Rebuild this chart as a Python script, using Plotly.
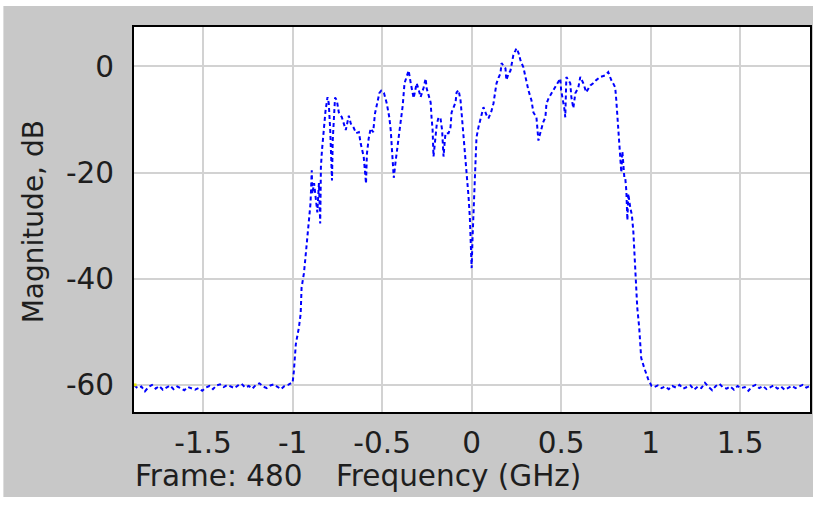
import numpy as np
import plotly.graph_objects as go

# ---- data ----
floor_left_y = [-60.1, -60.6, -60.3, -61.2, -60.4, -60.0, -60.7, -60.2, -60.9, -60.5,
                -60.1, -60.8, -60.3, -60.6, -61.0, -60.4, -60.7, -60.9, -60.6, -61.1,
                -60.5, -60.2, -60.8, -60.1, -59.9, -60.4, -60.0, -60.3, -60.6, -60.1,
                -59.8, -60.5, -60.2, -60.7, -60.0, -59.7, -60.3, -60.6, -60.1, -59.9,
                -60.4, -60.8, -60.2, -60.0, -59.6]
floor_left_x = list(np.round(np.linspace(-1.885, -1.005, len(floor_left_y)), 4))

band_x = [-1.0, -0.993, -0.982, -0.965, -0.955, -0.95, -0.937, -0.93, -0.92, -0.91,
          -0.90, -0.893, -0.89, -0.88, -0.87, -0.862, -0.853, -0.846, -0.844, -0.842,
          -0.836, -0.825, -0.816, -0.805, -0.798, -0.79, -0.785, -0.78, -0.776, -0.77,
          -0.763, -0.753, -0.742, -0.725, -0.703, -0.686, -0.675, -0.66, -0.645, -0.63,
          -0.62, -0.603, -0.595, -0.59, -0.585, -0.575, -0.564, -0.55, -0.54, -0.53,
          -0.515, -0.505, -0.49, -0.474, -0.46, -0.452, -0.446, -0.44, -0.435, -0.425,
          -0.408, -0.396, -0.385, -0.375, -0.365, -0.352, -0.34, -0.324, -0.315, -0.307,
          -0.295, -0.285, -0.268, -0.257, -0.251, -0.24, -0.229, -0.224, -0.218, -0.213,
          -0.205, -0.195, -0.185, -0.174, -0.165, -0.157, -0.15, -0.146, -0.129, -0.118,
          -0.112, -0.10, -0.09, -0.084, -0.073, -0.062, -0.056, -0.045, -0.034, -0.028,
          -0.022, -0.017, -0.01, -0.006, -0.002, 0.0, 0.005, 0.01, 0.016, 0.02,
          0.022, 0.027, 0.038, 0.05, 0.066, 0.083, 0.094, 0.11, 0.122, 0.133,
          0.139, 0.15, 0.161, 0.167, 0.178, 0.189, 0.194, 0.205, 0.217, 0.225,
          0.233, 0.245, 0.25, 0.262, 0.273, 0.289, 0.30, 0.317, 0.334, 0.345,
          0.362, 0.368, 0.373, 0.38, 0.39, 0.40, 0.412, 0.418, 0.43, 0.445,
          0.468, 0.484, 0.495, 0.50, 0.512, 0.518, 0.523, 0.526, 0.529, 0.54,
          0.551, 0.557, 0.568, 0.579, 0.596, 0.607, 0.624, 0.64, 0.652, 0.663,
          0.679, 0.696, 0.719, 0.746, 0.763, 0.78, 0.795, 0.802, 0.808, 0.813,
          0.819, 0.824, 0.83, 0.836, 0.842, 0.847, 0.853, 0.858, 0.864, 0.87,
          0.875, 0.886, 0.895, 0.903, 0.908, 0.914, 0.918, 0.925, 0.936, 0.942,
          0.947, 0.964, 0.986, 1.005]
band_y = [-59.6, -57.4, -52.3, -49.2, -46.6, -41.7, -39.0, -36.6, -32.8, -28.5,
          -25.8, -19.6, -24.0, -22.0, -24.7, -27.5, -22.0, -29.6, -25.0, -19.0,
          -15.8, -11.5, -8.3, -5.8, -7.0, -12.0, -17.5, -21.5, -14.0, -9.5,
          -5.9, -6.4, -8.7, -9.6, -12.0, -9.3, -10.8, -11.5, -12.6, -12.4,
          -14.5, -17.0, -19.6, -22.1, -16.5, -13.6, -11.7, -12.4, -8.9, -7.4,
          -5.0, -4.6, -5.0, -7.0, -9.6, -12.0, -15.3, -17.7, -21.0, -18.0,
          -13.4, -10.2, -7.4, -3.2, -2.0, -0.8, -3.2, -6.0, -4.5, -3.2,
          -4.5, -5.8, -4.0, -2.3, -4.2, -5.5, -6.8, -9.6, -12.0, -17.0,
          -14.0, -11.0, -9.6, -9.8, -12.0, -17.0, -14.0, -12.6, -12.6, -11.5,
          -8.7, -7.5, -6.8, -4.9, -4.5, -6.4, -8.9, -12.0, -16.4, -19.6,
          -22.0, -24.7, -28.5, -32.3, -36.0, -38.0, -32.3, -28.5, -24.0, -21.0,
          -17.0, -13.4, -11.5, -9.6, -7.7, -9.2, -9.8, -8.5, -7.0, -4.5,
          -3.2, -2.2, -1.3, 0.6, 0.2, -0.4, -2.6, -1.5, -0.8, 0.8,
          2.1, 3.0, 3.4, 2.5, 1.1, -0.2, -2.0, -4.5, -6.4, -8.7,
          -9.6, -11.5, -14.0, -13.0, -11.6, -10.5, -9.6, -7.0, -6.0, -5.1,
          -4.0, -3.0, -2.3, -4.5, -6.4, -8.0, -9.6, -5.5, -2.0, -2.6,
          -3.2, -5.8, -7.9, -5.1, -4.0, -2.0, -3.2, -4.9, -4.2, -3.6,
          -3.2, -2.6, -2.0, -1.7, -1.1, -2.6, -3.5, -4.0, -6.4, -8.9,
          -11.5, -14.5, -17.2, -20.0, -16.0, -18.0, -21.0, -21.0, -23.4, -29.0,
          -24.0, -26.6, -28.0, -31.0, -34.0, -37.9, -41.0, -45.4, -49.2, -53.0,
          -54.9, -56.8, -58.9, -60.2]

floor_right_y = [-60.4, -60.1, -60.6, -60.3, -60.8, -60.2, -60.5, -60.0, -60.7, -60.4,
                 -60.1, -60.9, -60.3, -60.6, -59.6, -60.4, -61.0, -60.2, -59.8, -60.5,
                 -60.7, -60.3, -60.9, -60.2, -60.6, -60.4, -61.1, -60.3, -60.0, -60.6,
                 -60.2, -60.8, -60.4, -60.1, -60.7, -60.3, -60.9, -60.5, -60.2, -60.6,
                 -60.3, -60.0, -60.5, -60.2]
floor_right_x = list(np.round(np.linspace(1.02, 1.89, len(floor_right_y)), 4))

freq = floor_left_x + band_x + floor_right_x
mag = floor_left_y + band_y + floor_right_y

x_ticks = [-1.5, -1, -0.5, 0, 0.5, 1, 1.5]
x_tick_text = ["-1.5", "-1", "-0.5", "0", "0.5", "1", "1.5"]
y_ticks = [0, -20, -40, -60]
y_tick_text = ["0", "-20", "-40", "-60"]

x_range = [-1.886, 1.89]
y_range = [-65.1, 7.4]

FONT = "DejaVu Sans"
FS = 29.5
TXT = "#1e1e1e"

fig = go.Figure()
fig.add_trace(go.Scatter(x=freq, y=mag, mode="lines",
                         line=dict(color="#0000ff", width=2, dash="4px,3px"),
                         hoverinfo="skip", showlegend=False))
# small yellow marker at the left edge
fig.add_trace(go.Scatter(x=[-1.886, -1.872], y=[-60, -60], mode="lines",
                         line=dict(color="#e8e800", width=3),
                         hoverinfo="skip", showlegend=False))

W, H = 813, 505
ml, mr, mt, mb = 134, 1, 27, 93
pw, ph = W - ml - mr, H - mt - mb

def px2paper_x(px):
    return (px - ml) / pw

def px2paper_y(py):
    return (H - mb - py) / ph

shapes = [
    # white strips around the grey panel
    dict(type="rect", xref="paper", yref="paper", x0=px2paper_x(-5), x1=px2paper_x(W + 5),
         y0=px2paper_y(6), y1=px2paper_y(-5), fillcolor="white", line_width=0, layer="above"),
    dict(type="rect", xref="paper", yref="paper", x0=px2paper_x(-5), x1=px2paper_x(3),
         y0=px2paper_y(H + 5), y1=px2paper_y(-5), fillcolor="white", line_width=0, layer="above"),
    dict(type="rect", xref="paper", yref="paper", x0=px2paper_x(-5), x1=px2paper_x(W + 5),
         y0=px2paper_y(H + 5), y1=px2paper_y(497), fillcolor="white", line_width=0, layer="above"),
]

annotations = [
    dict(text="Frame: 480", xref="paper", yref="paper", x=px2paper_x(133), y=px2paper_y(476),
         xanchor="left", yanchor="middle", showarrow=False,
         font=dict(family=FONT, size=FS, color=TXT)),
    dict(text="Frequency (GHz)", xref="paper", yref="paper", x=px2paper_x(335), y=px2paper_y(476),
         xanchor="left", yanchor="middle", showarrow=False,
         font=dict(family=FONT, size=FS, color=TXT)),
    dict(text="Magnitude, dB", xref="paper", yref="paper", x=px2paper_x(33), y=px2paper_y(222),
         xanchor="center", yanchor="middle", textangle=-90, showarrow=False,
         font=dict(family=FONT, size=FS * 0.95, color=TXT)),
]

fig.update_layout(
    width=W, height=H,
    margin=dict(l=ml, r=mr, t=mt, b=mb, pad=0),
    paper_bgcolor="#c8c8c8",
    plot_bgcolor="white",
    shapes=shapes,
    annotations=annotations,
    font=dict(family=FONT, size=FS, color=TXT),
    xaxis=dict(range=x_range, tickvals=x_ticks, ticktext=x_tick_text,
               showgrid=True, gridcolor="#d2d2d2", gridwidth=2, zeroline=False,
               showline=True, linecolor="black", linewidth=2, mirror=True,
               ticks="", ticklabelstandoff=4,
               tickfont=dict(family=FONT, size=FS, color=TXT)),
    yaxis=dict(range=y_range, tickvals=y_ticks, ticktext=y_tick_text,
               showgrid=True, gridcolor="#d2d2d2", gridwidth=2, zeroline=False,
               showline=True, linecolor="black", linewidth=2, mirror=True,
               ticks="", ticklabelstandoff=12,
               tickfont=dict(family=FONT, size=FS, color=TXT)),
)

fig.write_html("out.html")
